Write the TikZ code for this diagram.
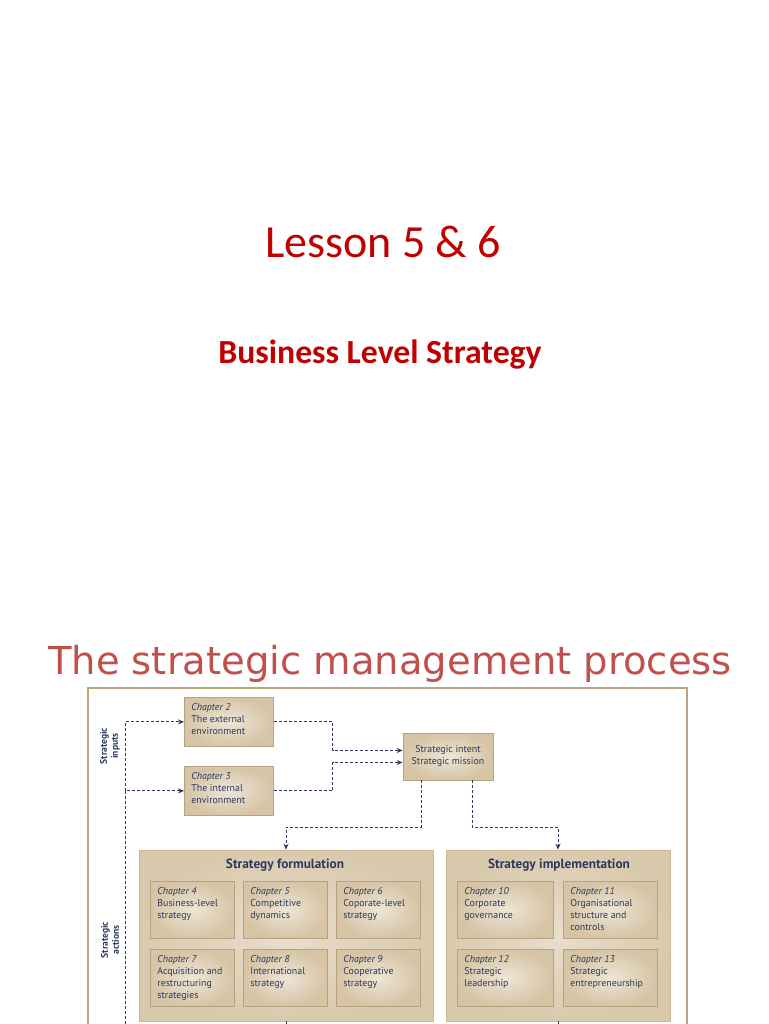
\documentclass[tikz,border=0pt]{standalone}
\usepackage{fontspec}
\setmainfont{Carlito}
\newfontfamily\dejavu{DejaVu Sans}
\newfontfamily\humsans{PT Sans}
\usetikzlibrary{arrows.meta,positioning}

\definecolor{slidered}{HTML}{C00000}
\definecolor{headred}{HTML}{C0504D}
\definecolor{navy}{HTML}{2B3A5E}
\definecolor{tanlight}{HTML}{EDE5D7}
\definecolor{tandark}{HTML}{D6C4A5}
\definecolor{tanedge}{HTML}{CDB893}
\definecolor{tanframe}{HTML}{BCA57E}

% text of a chapter box: [height]{width}{number}{title}
\newcommand{\chaptext}[4][45pt]{\parbox[c][#1][t]{#2}{\raggedright{\itshape Chapter #3}\\#4}}

\begin{document}
\begin{tikzpicture}[x=1pt, y=-1pt,
		box/.style = {shade, inner color=tanlight, outer color=tandark, draw=tanedge, line width=0.6pt},
		chap/.style = {box, anchor=north west, inner xsep=7pt, inner ysep=6pt, text=navy,
			draw=tanedge!88!black, line width=0.8pt, font=\humsans\fontsize{9.9}{12}\selectfont},
		group/.style = {box, inner color=tanlight!80!tandark, outer color=tandark!85!tanlight, draw=tanedge},
		flow/.style = {draw=navy, line width=0.9pt, dash pattern=on 3pt off 2pt},
		arr/.style = {-{Stealth[length=6pt, width=5pt]}},
		side/.style = {rotate=90, align=center, text=navy, font=\humsans\bfseries\fontsize{9.5}{11}\selectfont},
		grouptitle/.style = {text=navy, font=\humsans\bfseries\fontsize{13.3}{15}\selectfont}]
	\useasboundingbox (0,0) rectangle (768,1024);
	\fill[white] (0,0) rectangle (768,1024);

	% slide titles
	\node[anchor=base, text=slidered, font=\fontsize{46}{55}\selectfont] (lesson) at (383,258) {Lesson 5 \& 6};
	\node[anchor=base, text=slidered, font=\bfseries\fontsize{33.7}{40}\selectfont] (topic) at (380,363) {Business Level Strategy};
	\node[anchor=base, text=headred, font=\dejavu\fontsize{38.5}{46}\selectfont] (heading) at (390,674) {The strategic management process};

	% frame of the figure
	\draw[tanframe, line width=1.6pt] (88,1024) -- (88,688) -- (687,688) -- (687,1024);

	% strategic inputs
	\node[chap] (ch2) at (184,697) {\chaptext[37pt]{75pt}{2}{The external\\environment}};
	\node[chap] (ch3) at (184,766) {\chaptext[37pt]{75pt}{3}{The internal\\environment}};
	\node[box, minimum width=90pt, minimum height=47pt, align=center, text=navy, draw=tanedge!88!black,
		line width=0.8pt, font=\humsans\fontsize{9.9}{12}\selectfont] (intent) at (448,756.5) {Strategic intent\\Strategic mission};
	\node[side] (inputs) at (110,746) {Strategic\\inputs};

	% strategic actions
	\node[group, minimum width=294pt, minimum height=171pt] (form) at (286,935.5) {};
	\node[group, minimum width=224pt, minimum height=171pt] (impl) at (558,935.5) {};
	\node[grouptitle] (formtitle) at (285,865) {Strategy formulation};
	\node[grouptitle] (impltitle) at (559,865) {Strategy implementation};
	\node[side] (actions) at (110,940) {Strategic\\actions};

	\node[chap] (ch4) at (150,881) {\chaptext{70pt}{4}{Business-level\\strategy}};
	\node[chap] (ch5) at (243,881) {\chaptext{70pt}{5}{Competitive\\dynamics}};
	\node[chap] (ch6) at (336,881) {\chaptext{70pt}{6}{Coporate-level\\strategy}};
	\node[chap] (ch7) at (150,949) {\chaptext{70pt}{7}{Acquisition and\\restructuring\\strategies}};
	\node[chap] (ch8) at (243,949) {\chaptext{70pt}{8}{International\\strategy}};
	\node[chap] (ch9) at (336,949) {\chaptext{70pt}{9}{Cooperative\\strategy}};
	\node[chap] (ch10) at (457,881) {\chaptext{82pt}{10}{Corporate\\governance}};
	\node[chap] (ch11) at (563,881) {\chaptext{80pt}{11}{Organisational\\structure and\\controls}};
	\node[chap] (ch12) at (457,949) {\chaptext{82pt}{12}{Strategic\\leadership}};
	\node[chap] (ch13) at (563,949) {\chaptext{80pt}{13}{Strategic\\entrepreneurship}};

	% connectors
	\coordinate (inbot) at (125,1024);
	\draw[flow, arr] (inbot) |- (ch3);
	\draw[flow, arr] (inbot |- ch3.west) |- (ch2);
	\draw[flow, arr] (ch2.east) -- ++(59,0) |- ([yshift=6pt]intent.west);
	\draw[flow, arr] (ch3.east) -- ++(59,0) |- ([yshift=-6pt]intent.west);
	\draw[flow, arr] ([xshift=-27pt]intent.south) -- ++(0,47) -| (form.north);
	\draw[flow, arr] ([xshift=24pt]intent.south) -- ++(0,47) -| (impl.north);
	\draw[flow] (form.south) -- (form.south |- inbot);
	\draw[flow] (impl.south) -- (impl.south |- inbot);
\end{tikzpicture}
\end{document}
